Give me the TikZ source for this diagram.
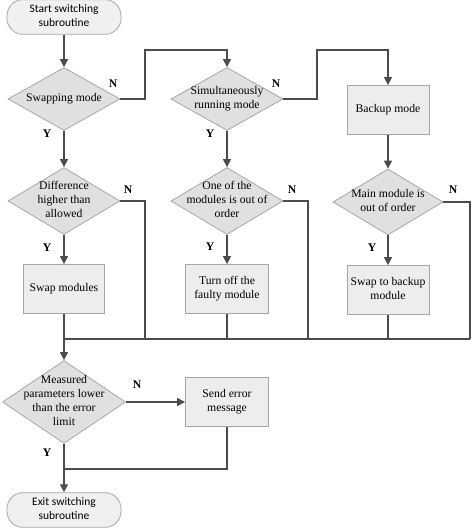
\documentclass[tikz,border=0pt]{standalone}
\usepackage{fontspec}
\setmainfont{Liberation Serif}
\usetikzlibrary{shapes.geometric}
\usetikzlibrary{arrows.meta}
\newcommand\boxtext[1]{{\fontsize{11.7}{14}\selectfont\begin{tabular}{@{}c@{}}#1\end{tabular}}}
\newcommand\termtext[1]{{\fontspec{Carlito}\fontsize{11.5}{14}\selectfont\begin{tabular}{@{}c@{}}#1\end{tabular}}}
\newcommand\yntext[1]{{\fontsize{11.7}{14}\selectfont\textbf{#1}}}

\tikzset{
  line/.style={draw=black!70,line width=1.3pt},
  arr/.style={line,-{Triangle[width=8pt,length=8pt]}},
  terminal/.style={draw=black!35,line width=0.8pt,rounded corners=16pt,fill=black!6,minimum width=114pt,minimum height=34pt},
  process/.style={draw=black!35,line width=0.8pt,fill=black!7,minimum height=49pt},
  decision/.style={diamond,draw=black!35,line width=0.8pt,fill=black!12,inner sep=0pt},
  dtext/.style={inner sep=0pt},
  yn/.style={inner sep=0pt}
}

\begin{document}
\begin{tikzpicture} [x=1pt,y=-1pt]

\useasboundingbox (0,0) rectangle (474,530);

% nodes
\node[terminal] (start) at (64,17) {\termtext{Start switching\\subroutine}};

\node[decision,minimum width=112pt,minimum height=63pt] (swapmode) at (64,99) {};
\node[dtext] (swapmodet) at (swapmode) {\boxtext{Swapping mode}};
\node[decision,minimum width=112pt,minimum height=63pt] (simmode) at (227,99) {};
\node[dtext] (simmodet) at (simmode) {\boxtext{Simultaneously\\running mode}};
\node[process,minimum width=82pt] (backup) at (388,110) {\boxtext{Backup mode}};

\node[decision,minimum width=112pt,minimum height=67pt] (diff) at (64,201) {};
\node[dtext] (difft) at (diff) {\boxtext{Difference\\higher than\\allowed}};
\node[decision,minimum width=112pt,minimum height=67pt] (outorder) at (227,201) {};
\node[dtext] (outordert) at (outorder) {\boxtext{One of the\\modules is out of\\order}};
\node[decision,minimum width=110pt,minimum height=66pt] (mainout) at (388,202) {};
\node[dtext] (mainoutt) at (mainout) {\boxtext{Main module is\\out of order}};

\node[process,minimum width=81pt] (swapmod) at (64,289) {\boxtext{Swap modules}};
\node[process,minimum width=83pt] (turnoff) at (227,289) {\boxtext{Turn off the\\faulty module}};
\node[process,minimum width=82pt] (swapbak) at (388,290) {\boxtext{Swap to backup\\module}};

\node[decision,minimum width=123pt,minimum height=83pt] (measured) at (64,402) {};
\node[dtext] (measuredt) at (measured) {\boxtext{Measured\\parameters lower\\than the error\\limit}};
\node[process,minimum width=83pt] (senderr) at (227,402) {\boxtext{Send error\\message}};

\node[terminal] (exit) at (64,510) {\termtext{Exit switching\\subroutine}};

% bends and joins
\coordinate (up1) at (145,50);
\coordinate (up2) at (317,50);
\coordinate (m0) at (64,339);
\coordinate (m1) at (145,339);
\coordinate (m2) at (308,339);
\coordinate (m3) at (470,339);
\coordinate (j0) at (64,469);

% connectors
\draw[arr] (start) -- (swapmode);
\draw[arr] (swapmode.east) -| (up1) -| (simmode.north);
\draw[arr] (simmode.east) -| (up2) -| (backup.north);
\draw[arr] (swapmode.south) -- (diff.north);
\draw[arr] (simmode.south) -- (outorder.north);
\draw[arr] (backup.south) -- (mainout.north);
\draw[arr] (diff.south) -- (swapmod.north);
\draw[arr] (outorder.south) -- (turnoff.north);
\draw[arr] (mainout.south) -- (swapbak.north);
\draw[line] (diff.east) -| (m1);
\draw[line] (outorder.east) -| (m2);
\draw[line] (mainout.east) -| (m3);
\draw[line] (swapmod.south) -- (m0);
\draw[line] (turnoff.south) -- (turnoff.south |- m0);
\draw[line] (swapbak.south) -- (swapbak.south |- m0);
\draw[line] (m0) -- (m3);
\draw[arr] (m0) -- (measured.north);
\draw[arr] (measured.east) -- (senderr.west);
\draw[line] (senderr.south) |- (j0);
\draw[arr] (measured.south) -- (exit.north);

% Y / N labels
\node[yn] (n1) at (113,84) {\yntext{N}};
\node[yn] (n2) at (276,84) {\yntext{N}};
\node[yn] (n3) at (128,190) {\yntext{N}};
\node[yn] (n4) at (292,190) {\yntext{N}};
\node[yn] (n5) at (453,190) {\yntext{N}};
\node[yn] (n6) at (137,385) {\yntext{N}};
\node[yn] (y1) at (47,134) {\yntext{Y}};
\node[yn] (y2) at (210,134) {\yntext{Y}};
\node[yn] (y3) at (47,248) {\yntext{Y}};
\node[yn] (y4) at (210,247) {\yntext{Y}};
\node[yn] (y5) at (372,248) {\yntext{Y}};
\node[yn] (y6) at (47,453) {\yntext{Y}};

\end{tikzpicture}
\end{document}
